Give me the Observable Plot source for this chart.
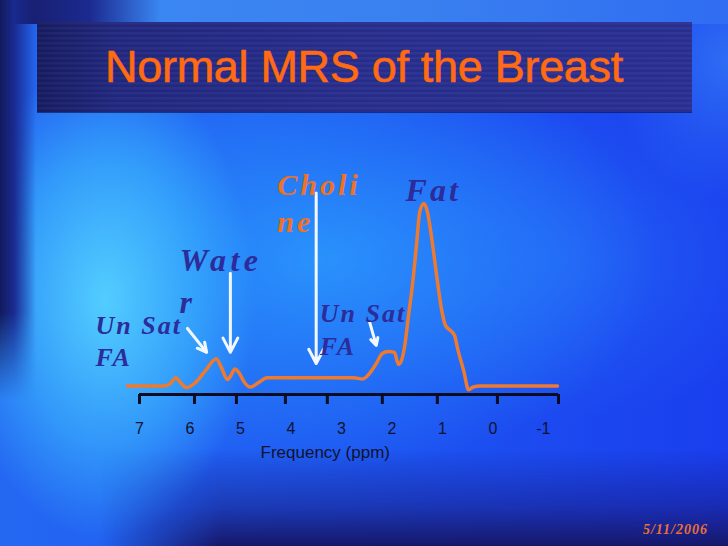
<!DOCTYPE html>
<html>
<head>
<meta charset="utf-8">
<script src="https://cdn.jsdelivr.net/npm/d3@7"></script>
<script src="https://cdn.jsdelivr.net/npm/@observablehq/plot@0.6"></script>
<style>
  html, body { margin: 0; padding: 0; }
  #slide {
    position: relative; width: 728px; height: 546px; overflow: hidden;
    background:
      radial-gradient(ellipse 150px 240px at 105px 300px, rgba(85,210,255,0.95) 0%, rgba(60,185,255,0.6) 60%, rgba(60,180,255,0) 100%),
      radial-gradient(ellipse 340px 210px at 320px 260px, rgba(45,165,255,0.75) 0%, rgba(45,160,255,0) 100%),
      radial-gradient(ellipse 260px 160px at 560px 260px, rgba(40,120,250,0.45) 0%, rgba(40,120,250,0) 100%),
      radial-gradient(ellipse 120px 140px at 728px 60px, rgba(50,120,245,0.8) 0%, rgba(50,120,245,0) 100%),
      linear-gradient(to right, #2468f2 0%, #1e58f2 45%, #1a3eee 100%);
  }
  .layer { position: absolute; pointer-events: none; }
  #leftdark {
    left: 0; top: 0; width: 36px; height: 400px;
    background: linear-gradient(to right, #121a5c 0px, #1a2a90 14px, rgba(30,70,220,0) 36px);
    -webkit-mask-image: linear-gradient(to bottom, #000 0%, #000 78%, transparent 100%);
  }
  #topband {
    left: 0; top: 0; width: 728px; height: 24px;
    background: linear-gradient(to right, #151a60 0px, #1c2a90 90px, #3a86f2 160px, #3a80f0 420px, #2f6cf2 728px);
  }
  #bottomband {
    left: 0; top: 450px; width: 728px; height: 96px;
    background: linear-gradient(to bottom, rgba(24,24,120,0) 0%, rgba(24,24,120,0.5) 60%, #17186a 100%);
    -webkit-mask-image: linear-gradient(to right, transparent 0px, transparent 100px, #000 220px, #000 728px);
  }
  #titlebar {
    left: 37px; top: 22px; width: 655px; height: 90px;
    background:
      repeating-linear-gradient(to bottom, rgba(255,255,255,0.03) 0px, rgba(255,255,255,0.03) 2px, rgba(0,0,0,0.04) 3px, rgba(0,0,0,0.04) 5px),
      linear-gradient(to right, #171c62 0%, #222880 12%, #282e8e 50%, #2a3094 100%);
    box-shadow: 0 1px 0 rgba(10,10,60,0.6);
  }
  #title {
    left: 0; top: 45px; width: 728px; height: 44px; line-height: 44px;
    text-align: center; font-family: "Liberation Sans", Arial, sans-serif;
    font-size: 45px; letter-spacing: -0.3px; color: #ff6a12; white-space: nowrap;
    -webkit-text-stroke: 0.6px #ff6a12;
  }
  #chart { position: absolute; left: 0; top: 0; }
  #date {
    right: 20px; top: 522px; font-family: "Liberation Serif", serif;
    font-weight: bold; font-style: italic; font-size: 14px; letter-spacing: 1px;
    color: #ea7038;
  }
</style>
</head>
<body>
<div id="slide">
  <div class="layer" id="topband"></div>
  <div class="layer" id="leftdark"></div>
  <div class="layer" id="bottomband"></div>
  <div class="layer" id="titlebar"></div>
  <div class="layer" id="title">Normal MRS of the Breast</div>
  <div id="chart"></div>
  <div class="layer" id="date">5/11/2006</div>
</div>
<script>
// ---- Data ----
// Spectrum: chemical shift (ppm) and relative intensity (fat peak = 100)
const ppm = [7.24, 6.52, 6.39, 6.28, 6.19, 6.07, 5.89, 5.69, 5.48, 5.37, 5.26, 5.20, 5.11, 5.02, 4.92, 4.80, 4.64, 4.47, 3.81, 2.76, 2.58, 2.46, 2.32, 2.19, 2.07, 1.95, 1.87, 1.81, 1.75, 1.67, 1.59, 1.51, 1.45, 1.37, 1.30, 1.22, 1.11, 1.02, 0.94, 0.84, 0.76, 0.69, 0.58, 0.48, 0.39, 0.25, -1.28];
const intensity = [0, 0, 1.3, 4.5, 1.9, -0.9, 1.9, 8.5, 14.9, 9.6, 3.5, 5.2, 9.3, 6.8, 1.9, -0.6, 1.9, 4.5, 4.5, 4.5, 3.8, 6.3, 11.8, 17.8, 18.9, 18.4, 11.8, 14.0, 21.3, 38.7, 56.2, 78.2, 95.2, 100, 95.8, 82.6, 59.7, 42.5, 33.2, 30.4, 27.7, 19.5, 8.5, -2.1, -0.6, 0, 0];

// Axis: tick labels and the hand-drawn ruler tick positions (ppm)
const tickLabels = [7, 6, 5, 4, 3, 2, 1, 0, -1];
const rulerTicks = [7, 5.91, 5.08, 4.11, 3.28, 2.19, 1.10, -0.09, -1.30];
const axisTitle = "Frequency (ppm)";
const axisTitlePpm = 3.32;
const axisTitleLevel = -36.5;

// Annotations
const annLabels = ["Choli\nne", "Fat", "Wate\nr", "Un Sat\nFA", "Un Sat\nFA"];
const annPpm = [4.27, 1.73, 6.21, 7.87, 3.43];
const annLevel = [119.2, 113.6, 79.2, 41.2, 47.8];

// Arrows (start -> tip)
const arrowX1 = [3.50, 5.20, 6.05, 2.44];
const arrowY1 = [105.7, 61.7, 31.5, 34.8];
const arrowX2 = [3.50, 5.20, 5.67, 2.31];
const arrowY2 = [12.3, 18.4, 18.4, 22.2];

// ---- Build tables ----
const spectrum = ppm.map((p, i) => ({ppm: p, v: intensity[i]}));
const arrows = arrowX1.map((x, i) => ({x1: x, y1: arrowY1[i], x2: arrowX2[i], y2: arrowY2[i]}));

const yMin = -4.7;
const annStyle = [
  {fill: "#ee7226", size: 30, ls: 3, lh: 1.23},
  {fill: "#2c2c9a", size: 32, ls: 3, lh: 1.0},
  {fill: "#2c2c9a", size: 32, ls: 4.5, lh: 1.3},
  {fill: "#2c2c9a", size: 26, ls: 2, lh: 1.25},
  {fill: "#2c2c9a", size: 26, ls: 2, lh: 1.27}
];

const annMarks = annLabels.map((_, i) => Plot.text([i], {
  x: j => annPpm[j], y: j => annLevel[j], text: j => annLabels[j],
  textAnchor: "start", lineAnchor: "top", lineHeight: annStyle[i].lh,
  fontFamily: "Liberation Serif, serif", fontWeight: "bold", fontStyle: "italic",
  fontSize: annStyle[i].size, fill: annStyle[i].fill
}));

const chart = Plot.plot({
  width: 728, height: 546,
  marginLeft: 139, marginRight: 170, marginTop: 203, marginBottom: 152,
  x: {domain: [7, -1.3], axis: null},
  y: {domain: [yMin, 100], axis: null},
  style: {background: "transparent", overflow: "visible"},
  marks: [
    Plot.ruleY([yMin], {stroke: "#0b0c22", strokeWidth: 3}),
    Plot.axisX({ticks: rulerTicks, tickSize: 10, tickFormat: () => "", stroke: "#0b0c22", strokeWidth: 3, label: null}),
    Plot.axisX({ticks: tickLabels, tickSize: 0, tickPadding: 28, tickFormat: d => `${d}`,
      fontSize: 16, fontFamily: "Liberation Sans, Arial, sans-serif", fill: "#10122e", label: null}),
    Plot.text([axisTitle], {x: () => axisTitlePpm, y: () => axisTitleLevel, text: d => d,
      fontSize: 17, fontFamily: "Liberation Sans, Arial, sans-serif", fill: "#10122e"}),
    Plot.line(spectrum, {x: "ppm", y: "v", stroke: "#ee7a30", strokeWidth: 3.5, curve: "monotone-x"}),
    Plot.arrow(arrows, {x1: "x1", y1: "y1", x2: "x2", y2: "y2", stroke: "#f2f8ff", strokeWidth: 3, headLength: 8, headAngle: 55}),
    ...annMarks
  ]
});

document.getElementById("chart").appendChild(chart);

// letter spacing for the annotation texts (in mark order)
const textGroups = chart.querySelectorAll('g[aria-label="text"]');
// first group is the axis title, then the annotations
textGroups.forEach((g, k) => {
  if (k === 0) return;
  const st = annStyle[k - 1];
  if (st) g.querySelectorAll("text").forEach(t => t.style.letterSpacing = st.ls + "px");
});
</script>
</body>
</html>
